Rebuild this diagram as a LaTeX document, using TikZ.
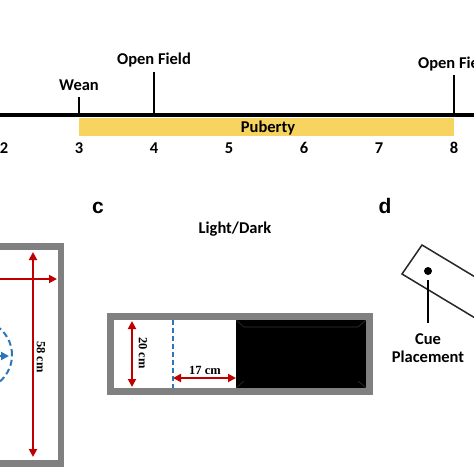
\documentclass[tikz,border=0pt]{standalone}
\usepackage{fontspec}
\setmainfont{Carlito}
\newfontfamily\panelfont{Liberation Sans}
\newfontfamily\dimfont{Liberation Serif}
\usetikzlibrary{arrows.meta,positioning}

\definecolor{pubyellow}{RGB}{247,212,95}
\definecolor{dimred}{RGB}{192,0,0}
\definecolor{zoneblue}{RGB}{46,117,182}
\definecolor{wallgray}{RGB}{128,128,128}

\begin{document}
\begin{tikzpicture}[
    x=1pt, y=-1pt,
    lbl/.style={
        font=\fontsize{16.5}{19}\selectfont\bfseries,
        inner sep=0pt,
        anchor=base
    },
    panel/.style={font=\panelfont\fontsize{21}{24}\selectfont\bfseries, inner sep=0pt, anchor=base},
    dimlbl/.style={font=\dimfont\fontsize{12.5}{14}\selectfont\bfseries, inner sep=0pt},
    dimarrow/.style={draw=dimred, line width=1.8pt},
    wall/.style={draw=wallgray, line width=6.5pt},
    tick/.style={line width=2pt},
    >={Triangle[length=8pt,width=8pt]}
]
    \clip (0,0) rectangle (474,474);

    % Timeline
    \coordinate (axis-w) at (-5,115);
    \coordinate (axis-e) at (480,115);
    \coordinate (t3) at (79,115);
    \coordinate (t4) at (154,115);
    \coordinate (t8) at (454,115);
    \fill[pubyellow] (t3 |- 0,118) rectangle (t8 |- 0,136);
    \draw[line width=4.5pt] (axis-w) -- (axis-e);
    \node[lbl] (puberty) at (268,132.5) {Puberty};
    \foreach \n [count=\i from 0] in {2,...,8}
        \node[lbl] (num\n) at (4+75*\i,153) {\n};

    % Ticks and events
    \node[lbl] (wean) at (79,90) {Wean};
    \node[lbl] (open1) at (154,64) {Open Field};
    \node[lbl] (open2) at (455,68) {Open Field};
    \draw[tick] (t3) -- (t3 |- 0,97);
    \draw[tick] (t4) -- (t4 |- 0,72);
    \draw[tick] (t8) -- (t8 |- 0,75);

    % Open field arena (cut off)
    \draw[wall] (-20,246.5) -- (61,246.5) -- (61,463.5) -- (-20,463.5);
    \draw[zoneblue, line width=2pt, dash pattern=on 6pt off 3.5pt] (-23,355) circle (35pt);
    \coordinate (zone-w) at (-20,356);
    \coordinate (zone-e) at (9,356);
    \draw[->, zoneblue, line width=2pt] (zone-w) -- (zone-e);
    \coordinate (len-n) at (33,252);
    \coordinate (len-s) at (33,457);
    \draw[dimarrow, <->] (len-n) -- (len-s);
    \coordinate (wid-w) at (-5,279);
    \coordinate (wid-e) at (57,279);
    \draw[dimarrow, ->] (wid-w) -- (wid-e);
    \node[dimlbl, rotate=-90] (len58) at (41,357) {58 cm};

    % Light/Dark box
    \node[panel] (panelc) at (98,213) {c};
    \node[lbl] (lighttitle) at (235,233) {Light/Dark};
    \draw[wall, line width=7pt] (110.5,316.5) rectangle (369.5,391.5);
    \fill[black] (236,320) rectangle (366,388);
    \draw[black!80, line width=0.6pt]
        (236,320) -- (244,327) (366,320) -- (358,327)
        (236,388) -- (244,381) (366,388) -- (358,381)
        (244,327) -- (358,327);
    \coordinate (zone-top) at (173,320);
    \coordinate (zone-bot) at (173,388);
    \draw[zoneblue, line width=1.6pt, dash pattern=on 5pt off 3pt] (zone-top) -- (zone-bot);
    \coordinate (h-n) at (132,321);
    \coordinate (h-s) at (132,387);
    \draw[dimarrow, <->] (h-n) -- (h-s);
    \node[dimlbl, rotate=-90] (h20) at (143,353) {20 cm};
    \coordinate (dark-w) at (236,378);
    \draw[dimarrow, <->] (zone-bot |- dark-w) -- (dark-w);
    \node[dimlbl, anchor=base] (d17) at (205,374) {17 cm};

    % Cue box (cut off)
    \node[panel] (paneld) at (385,213) {d};
    \draw[black!85, line width=1.5pt] (402,274) -- (422,245) -- (525,307) -- (505,336) -- cycle;
    \coordinate (cue-dot) at (428,271);
    \fill (cue-dot) circle (4pt);
    \node[lbl] (cue) at (428,344) {Cue};
    \node[lbl] (place) at (428,362) {Placement};
    \draw[line width=1.8pt] (428,280) -- (428,323);
\end{tikzpicture}
\end{document}
